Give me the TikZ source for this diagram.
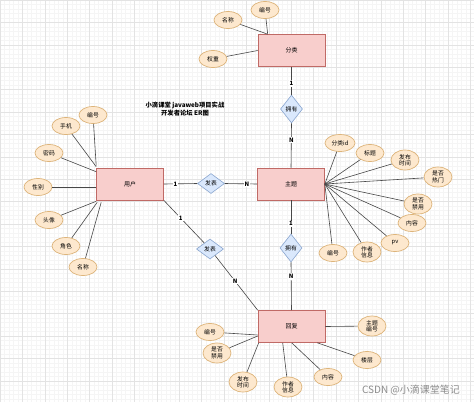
\documentclass[tikz,border=0pt]{standalone}
\usepackage{fontspec}
\setmainfont{Noto Sans CJK SC}
\usetikzlibrary{shapes.geometric,calc}
\definecolor{entF}{HTML}{F8CECC}
\definecolor{entD}{HTML}{C06A66}
\definecolor{attF}{HTML}{FDE8CE}
\definecolor{attD}{HTML}{DDB47A}
\definecolor{relF}{HTML}{DAE8FC}
\definecolor{relD}{HTML}{8AA6CF}
\begin{document}
\begin{tikzpicture}[x=1pt,y=-1pt,
 ent/.style={draw=entD,fill=entF,minimum width=67pt,minimum height=32pt,inner sep=0pt,line width=0.6pt,font=\fontsize{6}{7}\selectfont},
 att/.style={ellipse,draw=attD,fill=attF,minimum width=28pt,minimum height=17pt,inner sep=0pt,line width=0.7pt,align=center,font=\fontsize{5.8}{6.4}\selectfont},
 att2/.style={att,minimum height=20pt},
 rel/.style={diamond,draw=relD,fill=relF,inner sep=0pt,minimum width=27pt,minimum height=20pt,line width=0.6pt,font=\fontsize{5.8}{6}\selectfont},
 relv/.style={rel,minimum width=22pt,minimum height=28pt},
 conn/.style={draw=black!72,line width=0.6pt},
 card/.style={fill=white,inner sep=1pt,font=\fontsize{6}{6}\selectfont\bfseries}
]
\useasboundingbox (0,0) rectangle (474,402);
\fill[white] (0,0) rectangle (474,402);
% grid
\foreach \i in {0,...,106} {\draw[black!4,line width=0.3pt] (\i*4.48,0) -- (\i*4.48,402);}
\foreach \i in {0,...,90} {\draw[black!4,line width=0.3pt] (0,\i*4.48) -- (474,\i*4.48);}
\foreach \i in {0,...,21} {\draw[black!11,line width=0.4pt] (\i*22.4,0) -- (\i*22.4,402);}
\foreach \i in {0,...,18} {\draw[black!11,line width=0.4pt] (0,\i*22.4) -- (474,\i*22.4);}

% title
\node[align=center,font=\fontsize{6.3}{8.5}\selectfont\bfseries] (title) at (185,109) {小滴课堂 javaweb项目实战\\开发者论坛 ER图};

% entities
\node[ent] (cat) at (291.5,50.5) {分类};
\node[ent] (user) at (130,184) {用户};
\node[ent] (topic) at (291,184) {主题};
\node[ent] (reply) at (291.5,326.5) {回复};

% relationships
\node[relv] (r1) at (291.5,109) {拥有};
\node[rel] (r2) at (211,183.5) {发表};
\node[rel] (r3) at (210,249) {发表};
\node[relv] (r4) at (291,248) {拥有};

% category attributes
\node[att] (c1) at (265,10) {编号};
\node[att] (c2) at (228,20) {名称};
\node[att] (c3) at (213,59) {权重};
\draw[conn] (c1) -- ([xshift=10pt]cat.north west);
\draw[conn] (c2) -- ([xshift=10pt]cat.north west);
\draw[conn] (c3) -- (cat.west);

% user attributes
\node[att] (u1) at (93,115) {编号};
\node[att] (u2) at (66,126) {手机};
\node[att] (u3) at (49,153) {密码};
\node[att] (u4) at (38,187) {性别};
\node[att] (u5) at (49,220) {头像};
\node[att] (u6) at (66,246) {角色};
\node[att] (u7) at (83,267) {名称};
\draw[conn] (u1) -- ([yshift=2pt]user.north west);
\draw[conn] (u2) -- ([yshift=1pt]user.north west);
\draw[conn] (u3) -- ([yshift=-4pt]user.north west);
\draw[conn] (u4) -- ([yshift=-3pt]user.west);
\draw[conn] (u5) -- ([yshift=-1pt]user.south west);
\draw[conn] (u6) -- ([xshift=1pt,yshift=-2pt]user.south west);
\draw[conn] (u7) -- ([xshift=5pt,yshift=-2pt]user.south west);

% topic attributes
\node[att,minimum width=30pt] (t1) at (340,143) {分类id};
\node[att] (t2) at (370,153) {标题};
\node[att2] (t3) at (405,160) {发布\\时间};
\node[att2] (t4) at (438,177) {是否\\热门};
\node[att2] (t5) at (418,204) {是否\\禁用};
\node[att] (t6) at (412,223) {内容};
\node[att] (t7) at (395,243) {pv};
\node[att2] (t8) at (367,252) {作者\\信息};
\node[att] (t9) at (333,253) {编号};
\foreach \t in {t1,t2,t3,t4,t5,t6,t7,t8,t9} {\draw[conn] (\t) -- (topic.east);}

% reply attributes
\node[att] (p1) at (210,332) {编号};
\node[att2] (p2) at (217,353) {是否\\禁用};
\node[att2] (p3) at (243,382) {发布\\时间};
\node[att2] (p4) at (288,387) {作者\\信息};
\node[att] (p5) at (328,377) {内容};
\node[att2] (p6) at (372,326) {主题\\编号};
\node[att] (p7) at (367,360) {楼层};
\draw[conn] (p1) -- ([yshift=-8.5pt]reply.west);
\draw[conn] (p2) -- ([yshift=-9.5pt]reply.west);
\draw[conn] (p3) -- ([xshift=1pt]reply.south west);
\draw[conn] (p4) -- ([xshift=25pt]reply.south west);
\draw[conn] (p5) -- ([xshift=34pt]reply.south west);
\draw[conn] (p6) -- (reply.east);
\draw[conn] (p7) -- ([xshift=-8pt]reply.south east);

% relationship connectors
\draw[conn] (cat.south) -- node[card,pos=0.6]{1} (r1.north);
\draw[conn] (r1.south) -- node[card,pos=0.38]{N} (topic.north);
\draw[conn] (user.east) -- node[card,pos=0.35]{1} (r2.west);
\draw[conn] (r2.east) -- node[card,pos=0.68]{N} (topic.west);
\draw[conn] (user.south east) -- node[card,pos=0.42]{1} (r3);
\draw[conn] (r3) -- node[card,pos=0.47]{N} (reply.north west);
\draw[conn] (topic.south) -- node[card,pos=0.7]{1} (r4.north);
\draw[conn] (r4.south) -- node[card,pos=0.3]{N} (reply.north);

% watermark
\node[text=black!45,font=\fontsize{10}{10}\selectfont] (wm) at (411,390) {CSDN @小滴课堂笔记};
\end{tikzpicture}
\end{document}
